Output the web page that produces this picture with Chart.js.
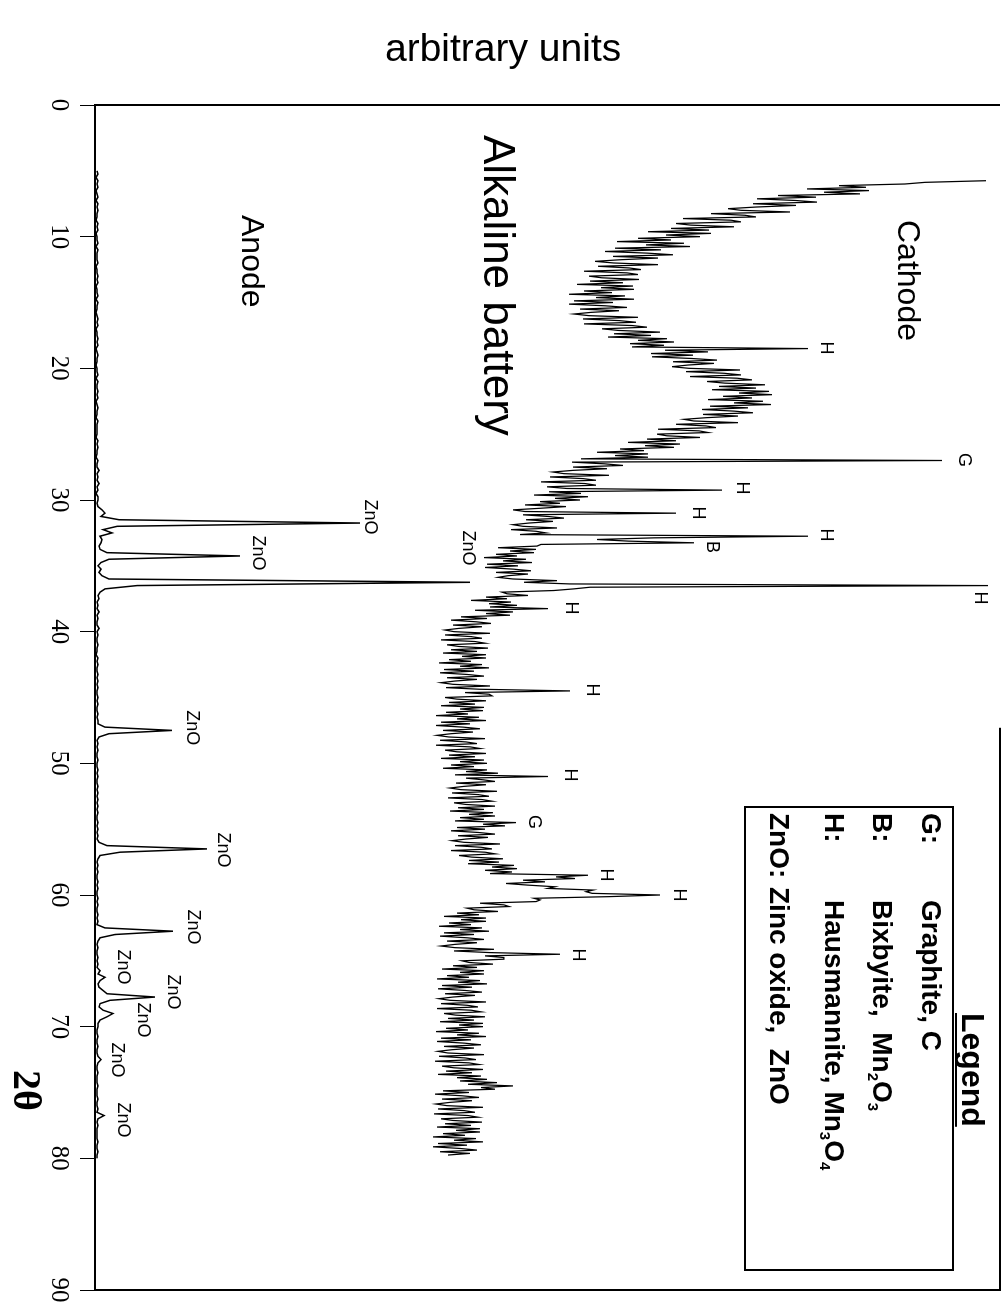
<!DOCTYPE html>
<html>
<head>
<meta charset="utf-8">
<title>Alkaline battery XRD</title>
<script src="https://cdn.jsdelivr.net/npm/chart.js@4.4.1/dist/chart.umd.min.js"></script>
<style>
  html, body { margin: 0; padding: 0; background: #fff; }
  body { width: 1007px; height: 1312px; overflow: hidden; position: relative; }
  /* the figure is laid out landscape and turned a quarter clockwise, like the printed page */
  #wrap { position: absolute; left: 0; top: 0; width: 1312px; height: 1007px;
          transform-origin: 0 0; transform: translate(1007px, 0) rotate(90deg); }
</style>
</head>
<body>
<div id="wrap"><canvas id="xrd" width="1312" height="1007"></canvas></div>
<script>
// 2θ scans: cathode read every 0.125°, anode every 0.25°
const cathodeStart = 5.75;
const cathodeStep = 0.125;
const anodeStart = 5.0;
const anodeStep = 0.25;

// cathode counts (arbitrary units), 5.75° .. 79.75°, one row per degree
const cathodeCounts = [
  891, 830,
  810, 744, 771, 712, 774, 729, 765, 683,
  721, 662, 700, 722, 658, 701, 661, 633,
  646, 695, 616, 650, 661, 588, 636, 646,
  581, 596, 639, 576, 614, 553, 616, 571,
  605, 543, 576, 522, 589, 551, 595, 520,
  566, 510, 552, 578, 518, 563, 526, 500,
  519, 563, 503, 534, 546, 489, 532, 543,
  494, 507, 544, 495, 528, 482, 538, 506,
  539, 489, 517, 474, 530, 501, 539, 479,
  518, 474, 510, 532, 485, 524, 496, 479,
  494, 543, 488, 524, 541, 489, 537, 552,
  507, 524, 565, 519, 556, 513, 572, 543,
  579, 535, 569, 537, 713, 570, 613, 556,
  598, 557, 596, 622, 578, 619, 593, 577,
  594, 645, 591, 629, 646, 595, 642, 657,
  612, 630, 670, 624, 661, 617, 674, 644,
  677, 628, 657, 613, 668, 639, 676, 615,
  653, 607, 639, 658, 608, 643, 611, 589,
  599, 643, 581, 611, 621, 563, 604, 613,
  562, 572, 605, 552, 581, 533, 585, 550,
  579, 525, 549, 502, 553, 520, 553, 486,
  847, 477, 509, 528, 478, 512, 478, 458,
  469, 514, 455, 488, 501, 446, 490, 501,
  452, 472, 627, 454, 486, 439, 493, 460,
  485, 445, 465, 430, 471, 446, 418, 430,
  581, 428, 453, 469, 431, 458, 434, 418,
  428, 462, 416, 441, 451, 425, 713, 559,
  502, 534, 599, 446, 442, 403, 441, 415,
  439, 401, 422, 389, 431, 408, 437, 392,
  423, 390, 418, 436, 401, 433, 413, 403,
  418, 462, 429, 475, 893, 495, 479, 459,
  407, 412, 433, 391, 412, 376, 416, 394,
  422, 395, 453, 380, 418, 391, 415, 366,
  392, 356, 381, 396, 358, 387, 364, 350,
  359, 395, 350, 376, 387, 346, 380, 390,
  352, 364, 393, 356, 382, 348, 391, 367,
  391, 354, 376, 344, 387, 365, 394, 349,
  379, 345, 372, 389, 352, 382, 360, 346,
  358, 395, 351, 385, 475, 370, 394, 397,
  350, 362, 391, 354, 380, 346, 389, 365,
  388, 351, 373, 341, 384, 362, 391, 346,
  375, 341, 368, 385, 348, 378, 356, 342,
  354, 390, 345, 371, 382, 341, 375, 385,
  350, 362, 391, 354, 380, 346, 389, 365,
  392, 356, 379, 348, 392, 371, 403, 360,
  453, 371, 388, 400, 361, 391, 369, 355,
  366, 402, 357, 383, 394, 353, 387, 397,
  359, 371, 400, 363, 389, 355, 398, 374,
  400, 365, 389, 360, 421, 388, 410, 362,
  390, 356, 383, 400, 363, 393, 371, 357,
  369, 405, 360, 386, 397, 356, 390, 400,
  364, 377, 408, 374, 404, 373, 419, 397,
  422, 390, 417, 395, 493, 461, 480, 428,
  450, 411, 433, 460, 453, 498, 491, 497,
  565, 514, 439, 445, 441, 385, 409, 414,
  372, 379, 403, 362, 384, 349, 391, 366,
  391, 354, 376, 344, 387, 365, 394, 349,
  379, 345, 372, 389, 352, 382, 360, 346,
  360, 399, 359, 395, 465, 390, 409, 409,
  367, 374, 398, 358, 382, 347, 389, 365,
  389, 352, 374, 342, 385, 363, 392, 347,
  377, 343, 370, 387, 350, 380, 358, 344,
  355, 391, 346, 372, 383, 342, 376, 386,
  349, 361, 390, 353, 379, 345, 388, 364,
  388, 351, 373, 341, 384, 362, 391, 346,
  376, 342, 369, 386, 349, 379, 357, 343,
  353, 389, 344, 370, 381, 340, 374, 384,
  347, 359, 388, 351, 377, 343, 386, 362,
  392, 365, 402, 373, 418, 386, 400, 348,
  374, 340, 367, 384, 347, 377, 355, 341,
  352, 388, 343, 369, 380, 339, 373, 383,
  346, 358, 387, 350, 376, 342, 385, 361,
  385, 348, 370, 338, 381, 359, 388, 343,
  372, 338, 365, 382, 345, 375, 353
];

// anode counts, 5.0° .. 80.0°, one row per degree
const anodeCounts = [
  2, 3, 1, 3,   2, 3, 1, 2,   3, 1, 3, 2,   3, 2, 2, 1,   3, 2, 3, 1,
  2, 2, 3, 1,   3, 2, 2, 2,   3, 1, 2, 2,   3, 2, 3, 1,   2, 2, 3, 1,
  3, 2, 2, 1,   2, 3, 2, 3,   1, 2, 2, 3,   2, 3, 1, 2,   3, 2, 2, 1,
  2, 2, 3, 1,   3, 2, 2, 3,   2, 3, 1, 2,   3, 2, 2, 1,   3, 2, 2, 2,
  2, 1, 3, 2,   3, 2, 2, 1,   3, 2, 2, 4,   2, 3, 2, 4,   2, 3, 1, 3,
  3, 2, 3, 7,   10, 6, 24, 265,   22, 8, 17, 5,   7, 6, 4, 5,   12, 145, 14, 6,
  3, 6, 4, 7,   14, 375, 42, 10,   5, 3, 4, 2,   3, 2, 4, 2,   3, 2, 2, 4,
  2, 3, 2, 2,   3, 2, 2, 1,   3, 2, 3, 2,   2, 3, 2, 3,   2, 3, 2, 2,
  3, 2, 3, 2,   2, 3, 2, 3,   3, 10, 77, 14,   4, 2, 3, 2,   3, 2, 2, 3,
  2, 2, 3, 2,   3, 2, 2, 3,   2, 3, 2, 3,   2, 3, 2, 3,   2, 2, 3, 2,
  3, 2, 3, 2,   4, 12, 112, 25,   5, 3, 2, 3,   2, 3, 2, 2,   3, 2, 3, 2,
  2, 3, 2, 3,   2, 2, 3, 2,   3, 2, 10, 78,   20, 5, 3, 2,   3, 2, 2, 3,
  2, 3, 2, 5,   3, 10, 5, 3,   4, 8, 12, 60,   15, 5, 4, 8,   18, 12, 5, 3,
  3, 2, 2, 3,   2, 2, 3, 2,   2, 3, 6, 3,   2, 2, 3, 2,   2, 2, 3, 2,
  2, 2, 3, 2,   2, 3, 2, 9,   3, 2, 3, 2,   2, 2, 2, 3,   2, 2, 3, 2,
  2
];

// peak labels: [text, 2θ, height]
const cathodePeakLabels = [
  ['H', 18.46, 731], ['G', 26.96, 869], ['H', 29.09, 647], ['H', 30.99, 603],
  ['H', 32.66, 731], ['B', 33.57, 617], ['H', 37.44, 885], ['H', 38.2, 476],
  ['H', 44.43, 497], ['H', 50.89, 475], ['G', 54.45, 439], ['H', 58.48, 511],
  ['H', 60.0, 584], ['H', 64.56, 483]
];
const anodePeakLabels = [
  ['ZnO', 31.29, 275], ['ZnO', 34.02, 163], ['ZnO', 33.65, 373], ['ZnO', 47.3, 97],
  ['ZnO', 56.58, 128], ['ZnO', 62.43, 98], ['ZnO', 65.47, 28], ['ZnO', 67.37, 78],
  ['ZnO', 69.49, 48], ['ZnO', 72.53, 22], ['ZnO', 77.09, 28]
];

const thetaMin = 0;
const thetaMax = 90;
const thetaTickStep = 10;
const countsMax = 905;

// legend rows: key, then name pieces (true = subscript)
const legendKeys = ['G:', 'B:', 'H:', 'ZnO:'];
const legendNames = [
  [['Graphite, C', false]],
  [['Bixbyite,  Mn', false], ['2', true], ['O', false], ['3', true]],
  [['Hausmannite, Mn', false], ['3', true], ['O', false], ['4', true]],
  [['Zinc oxide,  ZnO', false]]
];

const SANS = '"Liberation Sans", Arial, Helvetica, sans-serif';
const SERIF = '"Liberation Serif", "Times New Roman", Times, serif';

function scan(start, step, counts) {
  return counts.map((c, i) => ({ x: start + i * step, y: c }));
}

function runs(ctx, x, y, pieces, size) {
  pieces.forEach(([txt, sub]) => {
    ctx.font = 'bold ' + (sub ? Math.round(size * 0.55) : size) + 'px ' + SANS;
    ctx.fillText(txt, x, sub ? y + 5 : y);
    x += ctx.measureText(txt).width;
  });
}

const decorations = {
  id: 'decorations',
  afterDraw(chart) {
    const ctx = chart.ctx;
    const a = chart.chartArea;
    const xs = chart.scales.x;
    const ys = chart.scales.y;
    ctx.save();
    ctx.fillStyle = '#000';
    ctx.strokeStyle = '#000';

    // frame (the far side only shows on the lower part of the page)
    ctx.lineWidth = 2;
    ctx.beginPath();
    ctx.moveTo(xs.getPixelForValue(47.3), a.top);
    ctx.lineTo(a.right, a.top);
    ctx.lineTo(a.right, a.bottom);
    ctx.lineTo(a.left, a.bottom);
    ctx.lineTo(a.left, a.top);
    ctx.stroke();

    // peak labels
    ctx.font = '18px ' + SANS;
    ctx.textAlign = 'center';
    ctx.textBaseline = 'middle';
    cathodePeakLabels.concat(anodePeakLabels).forEach(([t, th, v]) => {
      ctx.fillText(t, xs.getPixelForValue(th), ys.getPixelForValue(v));
    });

    // titles
    ctx.textAlign = 'left';
    ctx.textBaseline = 'alphabetic';
    ctx.font = '44px ' + SANS;
    ctx.fillText('Alkaline battery', 135, 523);
    ctx.font = '32px ' + SANS;
    ctx.fillText('Cathode', 220, 109);
    ctx.fillText('Anode', 215, 765);
    ctx.font = 'bold 40px ' + SERIF;
    ctx.fillText('2\u03b8', 1070, 993);

    ctx.save();
    ctx.translate(61, 622);
    ctx.rotate(-Math.PI / 2);
    ctx.font = '39px ' + SANS;
    ctx.fillText('arbitrary units', 0, 0);
    ctx.restore();

    // legend box
    ctx.lineWidth = 2;
    ctx.strokeRect(807, 54, 463, 208);
    ctx.font = 'bold 32px ' + SANS;
    ctx.fillText('Legend', 1013, 45);
    const lw = ctx.measureText('Legend').width;
    ctx.beginPath();
    ctx.moveTo(1013, 51);
    ctx.lineTo(1013 + lw, 51);
    ctx.stroke();

    const baselines = [85, 134, 182, 237];
    legendKeys.forEach((k, i) => {
      ctx.font = 'bold 28px ' + SANS;
      ctx.fillText(k, 813, baselines[i]);
      runs(ctx, i === 3 ? 887 : 900, baselines[i], legendNames[i], 28);
    });
    ctx.restore();
  }
};

new Chart(document.getElementById('xrd'), {
  type: 'line',
  data: {
    datasets: [
      { label: 'Cathode', data: scan(cathodeStart, cathodeStep, cathodeCounts), borderWidth: 1.25 },
      { label: 'Anode', data: scan(anodeStart, anodeStep, anodeCounts), borderWidth: 1.5 }
    ]
  },
  options: {
    responsive: false,
    devicePixelRatio: 1,
    animation: false,
    layout: { padding: { top: 7, right: 22, left: 0, bottom: 0 } },
    elements: {
      point: { radius: 0 },
      line: { borderColor: '#000', borderWidth: 1, tension: 0, fill: false }
    },
    plugins: { legend: { display: false }, tooltip: { enabled: false } },
    scales: {
      x: {
        type: 'linear',
        position: 'bottom',
        min: thetaMin,
        max: thetaMax,
        afterFit: s => { s.height = 95; },
        border: { display: false },
        grid: { drawOnChartArea: false, drawTicks: true, tickLength: 15, color: '#000', lineWidth: 1 },
        ticks: {
          stepSize: thetaTickStep,
          autoSkip: false,
          maxRotation: 0,
          padding: 6,
          color: '#000',
          font: { family: SERIF, size: 25 }
        }
      },
      y: {
        type: 'linear',
        min: 0,
        max: countsMax,
        afterFit: s => { s.width = 105; },
        border: { display: false },
        grid: { display: false },
        ticks: { display: false }
      }
    }
  },
  plugins: [decorations]
});
</script>
</body>
</html>
